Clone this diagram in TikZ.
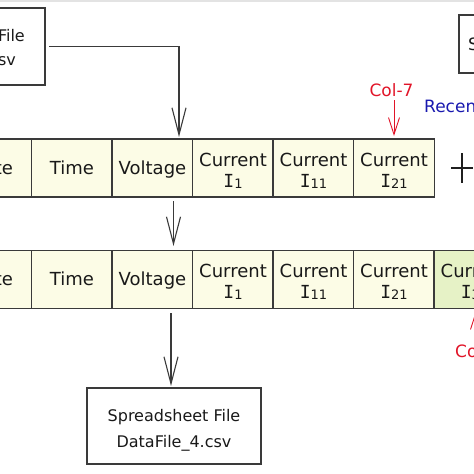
\documentclass[tikz,border=0pt]{standalone}
\usepackage{fontspec}
\setmainfont{DejaVu Sans}
\newfontfamily\monoI{DejaVu Sans Mono}
\usetikzlibrary{arrows.meta}
\definecolor{cellbg}{HTML}{FCFCE6}
\definecolor{newbg}{HTML}{E6F2C6}
\definecolor{edge}{HTML}{3A3A3A}
\definecolor{labred}{RGB}{225,20,40}
\definecolor{labblue}{RGB}{25,25,175}
\definecolor{stripgray}{HTML}{E3E3E3}
\newcommand{\Isub}[1]{{\monoI I}\raisebox{-1.5pt}{\fontsize{13}{13}\selectfont #1}}
\begin{document}
\begin{tikzpicture}[x=1pt,y=-1pt,
  cellbox/.style={draw=edge,line width=1.2pt,fill=cellbg,minimum width=81pt,minimum height=58pt,inner sep=0pt,outer sep=0pt},
  newbox/.style={cellbox,fill=newbg},
  filebox/.style={draw=edge,line width=1.2pt,fill=white,inner sep=0pt,outer sep=0pt},
  celltxt/.style={anchor=base,inner sep=0pt,font=\fontsize{18}{20}\selectfont,text=black!90},
  boxtxt/.style={anchor=base,inner sep=0pt,font=\fontsize{16}{18}\selectfont,text=black!90},
  labtxt/.style={anchor=base,inner sep=0pt,font=\fontsize{17}{19}\selectfont},
  grayarrow/.style={draw=edge,line width=1.1pt,-{Straight Barb[length=27pt,width=14pt,line width=1.1pt]}},
  redarrow/.style={draw=labred,line width=0.9pt,-{Straight Barb[length=17pt,width=11pt,line width=0.9pt]}}
]
\useasboundingbox (0,0) rectangle (474,474);
\clip (0,0) rectangle (474,474);
\fill[stripgray] (0,0) rectangle (474,2.2);

% top-left file box
\node[filebox,minimum width=173pt,minimum height=77pt] (fileA) at (-41.5,46.5) {};
\node[boxtxt] (fileAt1) at (-41.5,41) {Spreadsheet File};
\node[boxtxt] (fileAt2) at (-41.5,65) {DataFile\_3.csv};

% top-right box
\node[filebox,anchor=north west,minimum width=120pt,minimum height=58pt] (srcB) at (459,15) {};
\node[labtxt,anchor=base west,text=black!90] (srcBt) at (468,50) {Spreadsheet File};

% row 1
\foreach \n/\cx in {a/-8.5,b/72,c/152.5,d/233,e/313.5,f/394}{
  \node[cellbox] (r1\n) at (\cx,168) {};
}
\node[celltxt] (t1a) at (-8.5,174) {Date};
\node[celltxt] (t1b) at (72,174) {Time};
\node[celltxt] (t1c) at (152.5,174) {Voltage};
\node[celltxt] (t1d) at (233,166) {Current};
\node[celltxt] (t1d2) at (233,187) {\Isub{1}};
\node[celltxt] (t1e) at (313.5,166) {Current};
\node[celltxt] (t1e2) at (313.5,187) {\Isub{11}};
\node[celltxt] (t1f) at (394,166) {Current};
\node[celltxt] (t1f2) at (394,187) {\Isub{21}};

% row 2
\foreach \n/\cx in {a/-8.5,b/72,c/152.5,d/233,e/313.5,f/394}{
  \node[cellbox] (r2\n) at (\cx,279.5) {};
}
\node[newbox] (r2g) at (474.5,279.5) {};
\node[celltxt] (t2a) at (-8.5,285) {Date};
\node[celltxt] (t2b) at (72,285) {Time};
\node[celltxt] (t2c) at (152.5,285) {Voltage};
\node[celltxt] (t2d) at (233,277) {Current};
\node[celltxt] (t2d2) at (233,298) {\Isub{1}};
\node[celltxt] (t2e) at (313.5,277) {Current};
\node[celltxt] (t2e2) at (313.5,298) {\Isub{11}};
\node[celltxt] (t2f) at (394,277) {Current};
\node[celltxt] (t2f2) at (394,298) {\Isub{21}};
\node[celltxt] (t2g) at (474.5,277) {Current};
\node[celltxt] (t2g2) at (474.5,298) {\Isub{31}};

% bottom file box
\node[filebox,minimum width=174pt,minimum height=76pt] (fileB) at (174,426) {};
\node[boxtxt] (fileBt1) at (174,421) {Spreadsheet File};
\node[boxtxt] (fileBt2) at (174,447) {DataFile\_4.csv};

% plus sign
\draw[line width=2.6pt,black!88] (451,168) -- (473,168) (462,153) -- (462,183);

% labels
\node[labtxt,text=labred] (col7) at (391.5,96) {Col-7};
\node[labtxt,anchor=base west,text=labblue] (recent) at (424,112) {Recently};
\node[labtxt,anchor=base west,text=labred] (col8) at (455,357) {Col-8};

% gray connectors
\coordinate (a1e) at (179,137);
\draw[grayarrow] ([xshift=4pt]fileA.east) -| (a1e);
\coordinate (a2s) at (173.5,201);
\coordinate (a2e) at (173.5,246);
\draw[grayarrow] (a2s) -- (a2e);
\coordinate (a3s) at (171,313);
\coordinate (a3e) at (171,386);
\draw[grayarrow] (a3s) -- (a3e);

% red connectors
\coordinate (c7s) at (394,100);
\coordinate (c7e) at (394,136);
\draw[redarrow] (c7s) -- (c7e);
\coordinate (c8s) at (476,343);
\coordinate (c8e) at (476,311);
\draw[redarrow] (c8s) -- (c8e);
\end{tikzpicture}
\end{document}
